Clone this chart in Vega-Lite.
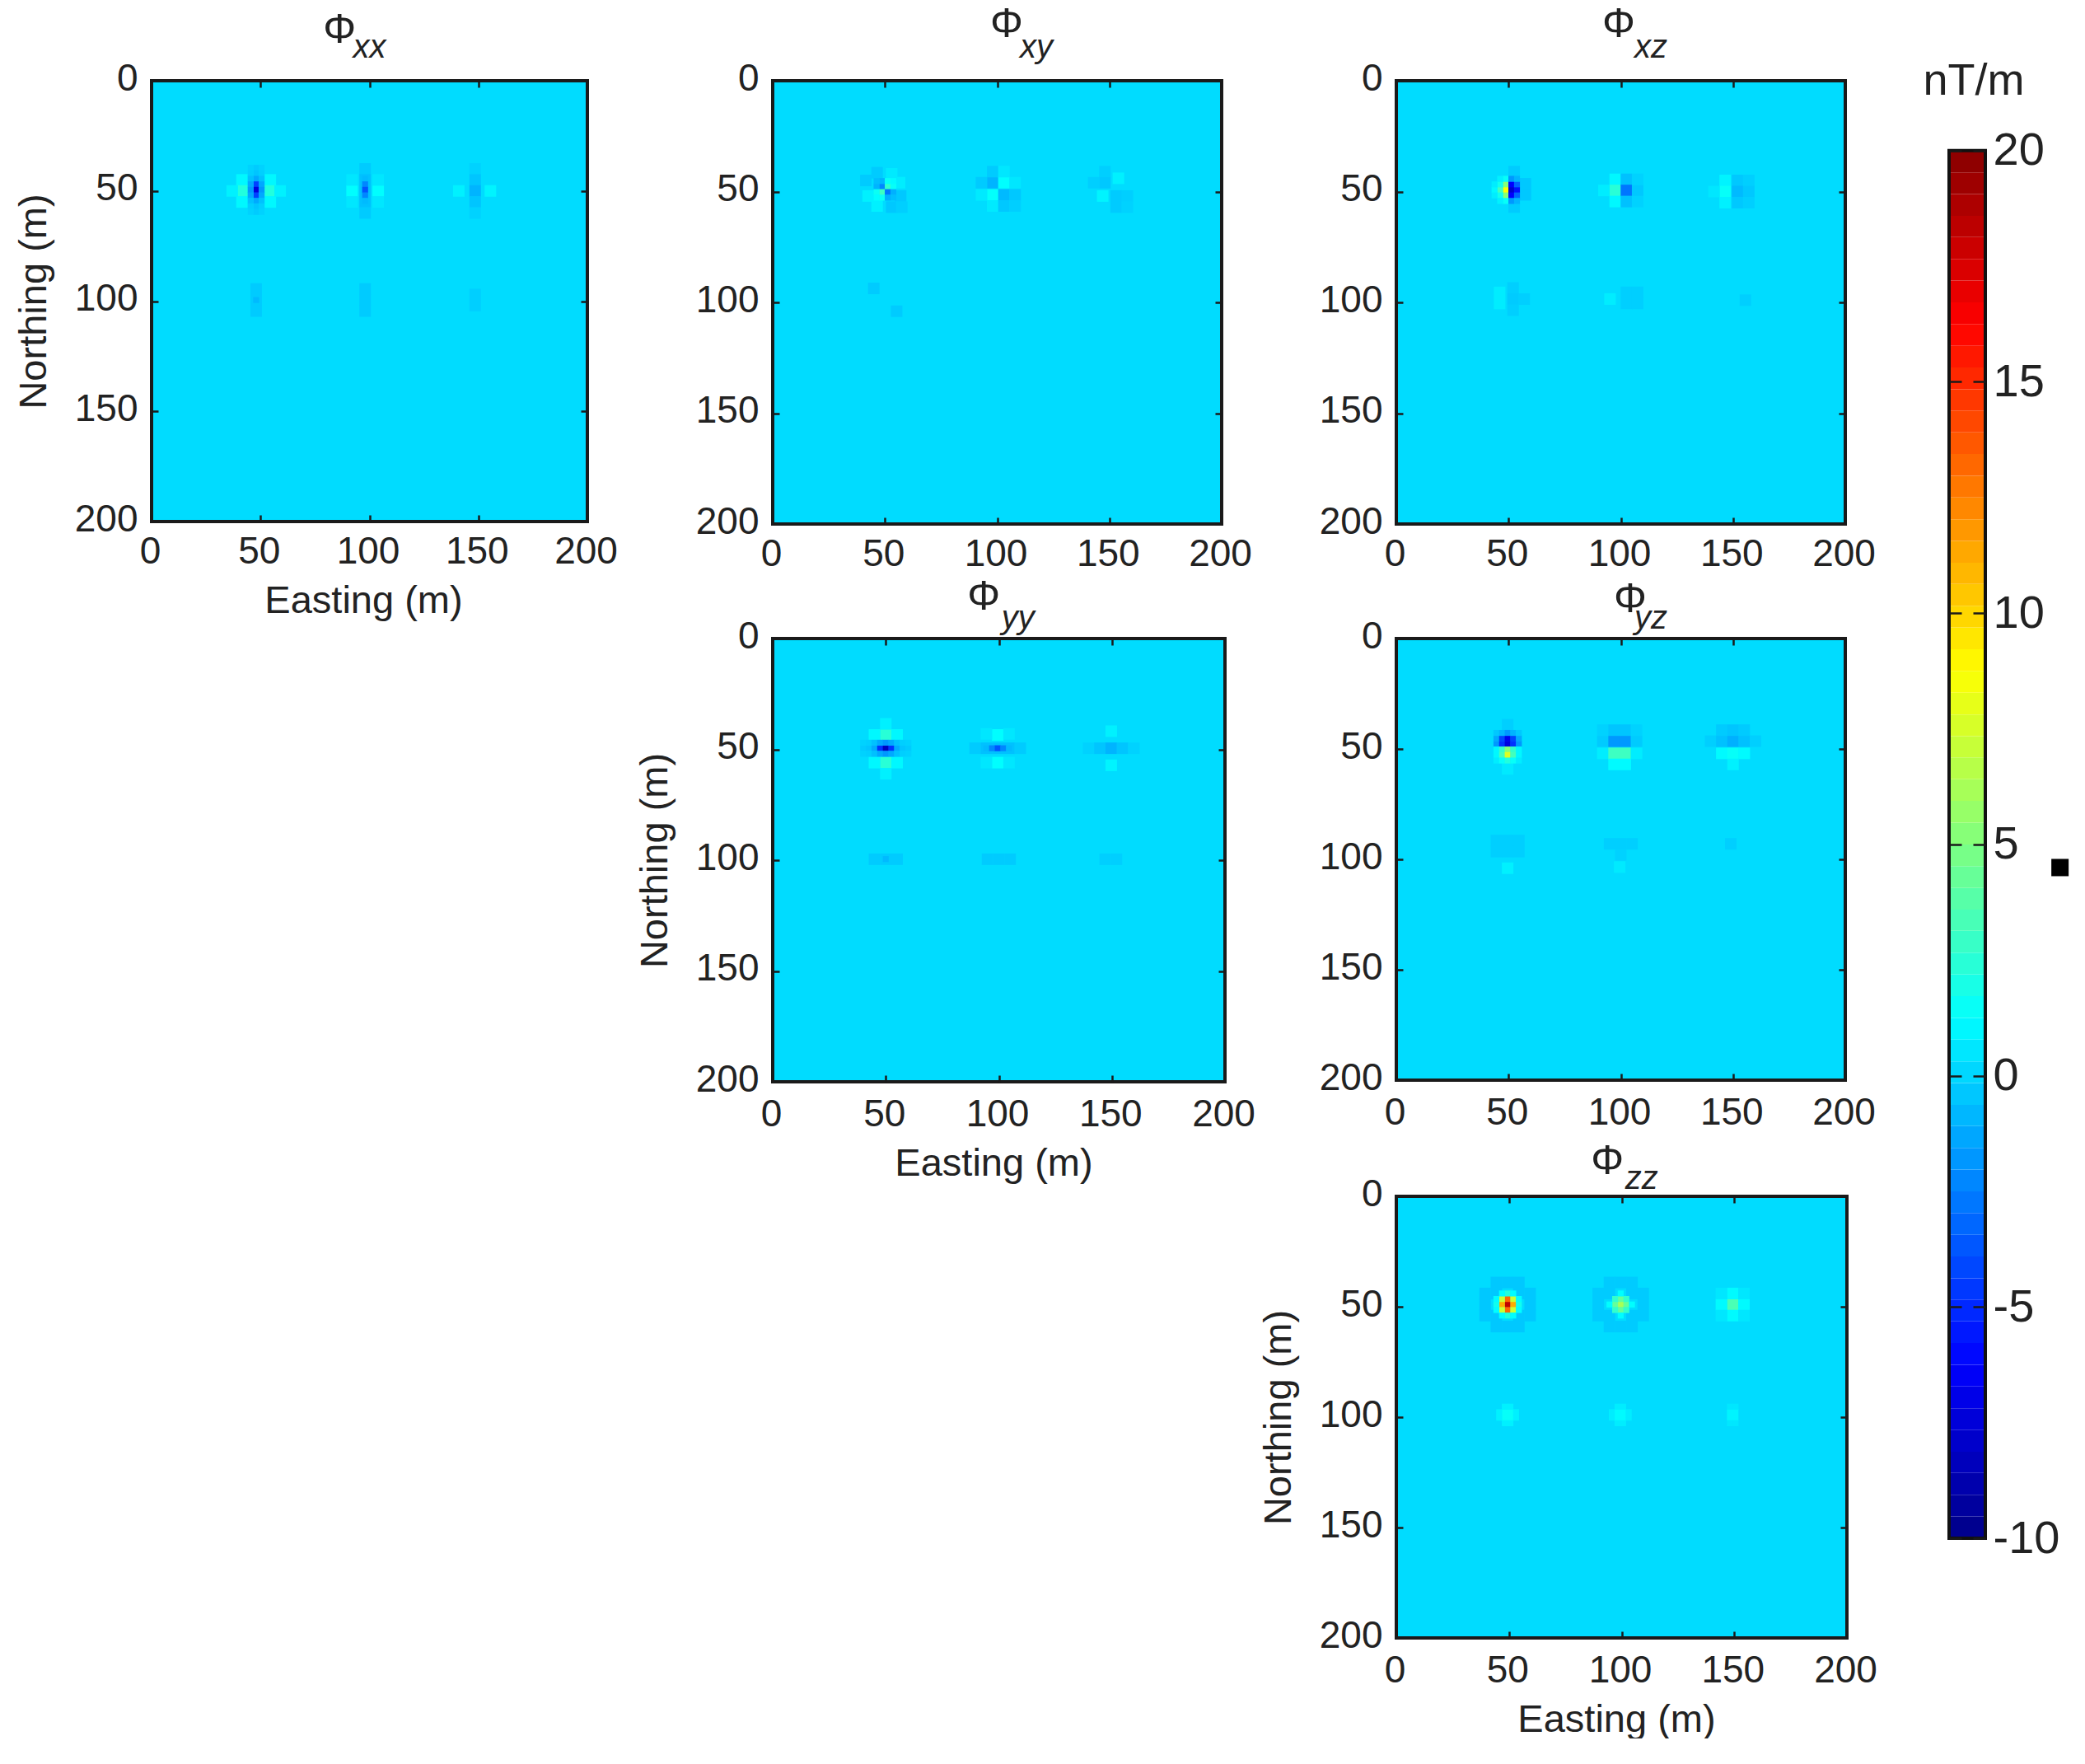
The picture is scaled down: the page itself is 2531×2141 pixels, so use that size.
{"$schema":"https://vega.github.io/schema/vega-lite/v6.json","padding":{"left":17,"top":5,"right":0,"bottom":0},"background":"white","config":{"view":{"stroke":null},"legend":{"disable":true},"font":"Liberation Sans","axis":{"domain":false,"grid":false,"tickCount":5,"tickColor":"#1a1a1a","tickWidth":2.5,"tickSize":-8,"labelFontSize":46,"labelColor":"#222222","titleFontSize":47,"titleFontWeight":"normal","titleColor":"#222222","labelPadding":25,"labelOverlap":false,"labelBound":false,"labelFlush":false},"axisX":{"titlePadding":14,"labelOffset":-2},"axisY":{"titlePadding":25,"labelOffset":-3},"title":{"fontSize":50,"fontWeight":"normal","color":"#222222","anchor":"start","frame":"group","subtitleFontSize":40,"subtitleFontStyle":"italic","subtitleColor":"#222222"}},
"datasets":{"bg":[{"e":0,"n":0,"e1":200,"n1":200,"v":0}],
"xxc":[{"e":41.5,"n":45,"v":0.8},{"e":41.5,"n":50,"v":2},{"e":41.5,"n":55,"v":0.8},{"e":37,"n":50,"v":0.6},{"e":54.5,"n":45,"v":0.8},{"e":54.5,"n":50,"v":2},{"e":54.5,"n":55,"v":0.8},{"e":59,"n":50,"v":0.6},{"e":98,"n":40,"v":-0.5},{"e":98,"n":45,"v":-0.8},{"e":98,"n":50,"v":-0.8},{"e":98,"n":55,"v":-0.8},{"e":98,"n":60,"v":-0.5},{"e":92,"n":50,"v":1},{"e":92,"n":45,"v":0.3},{"e":92,"n":55,"v":0.3},{"e":104,"n":50,"v":1},{"e":104,"n":45,"v":0.3},{"e":104,"n":55,"v":0.3},{"e":148.5,"n":40,"v":-0.3},{"e":148.5,"n":45,"v":-0.7},{"e":148.5,"n":50,"v":-1.2},{"e":148.5,"n":55,"v":-0.7},{"e":148.5,"n":60,"v":-0.3},{"e":141,"n":50,"v":0.6},{"e":155.5,"n":50,"v":0.7},{"e":48,"n":94.5,"v":-0.5},{"e":48,"n":99.5,"v":-0.5},{"e":48,"n":104.5,"v":-0.5},{"e":98,"n":94.5,"v":-0.5},{"e":98,"n":99.5,"v":-0.5},{"e":98,"n":104.5,"v":-0.5},{"e":148.5,"n":97,"v":-0.4},{"e":148.5,"n":102,"v":-0.4}],
"xxf":[{"e":48,"n":39.5,"v":-0.5},{"e":48,"n":42,"v":-0.7},{"e":48,"n":44.5,"v":-1.5},{"e":48,"n":47,"v":-4.5},{"e":48,"n":49.5,"v":-7.5},{"e":48,"n":52,"v":-4.5},{"e":48,"n":54.5,"v":-1.5},{"e":48,"n":57,"v":-0.7},{"e":48,"n":59.5,"v":-0.5},{"e":45.5,"n":39.5,"v":-0.3},{"e":45.5,"n":42,"v":-0.4},{"e":45.5,"n":44.5,"v":-0.8},{"e":45.5,"n":47,"v":-1.5},{"e":45.5,"n":49.5,"v":-2},{"e":45.5,"n":52,"v":-1.5},{"e":45.5,"n":54.5,"v":-0.8},{"e":45.5,"n":57,"v":-0.4},{"e":45.5,"n":59.5,"v":-0.3},{"e":50.5,"n":39.5,"v":-0.3},{"e":50.5,"n":42,"v":-0.4},{"e":50.5,"n":44.5,"v":-0.8},{"e":50.5,"n":47,"v":-1.5},{"e":50.5,"n":49.5,"v":-2},{"e":50.5,"n":52,"v":-1.5},{"e":50.5,"n":54.5,"v":-0.8},{"e":50.5,"n":57,"v":-0.4},{"e":50.5,"n":59.5,"v":-0.3},{"e":98,"n":44.5,"v":-1},{"e":98,"n":47,"v":-2.5},{"e":98,"n":49.5,"v":-4},{"e":98,"n":52,"v":-2.5},{"e":98,"n":54.5,"v":-1},{"e":48,"n":99.5,"v":-1}],
"xyc":[{"e":41.5,"n":45,"v":-0.5},{"e":46.5,"n":41.5,"v":-0.5},{"e":42.5,"n":52,"v":0.6},{"e":46.5,"n":56.5,"v":0.6},{"e":56.5,"n":46,"v":0.5},{"e":53,"n":42,"v":0.4},{"e":57,"n":52,"v":-0.6},{"e":53,"n":57,"v":-0.6},{"e":57.5,"n":57,"v":-0.4},{"e":98,"n":46,"v":-1.2},{"e":93,"n":46,"v":-0.5},{"e":98,"n":41,"v":-0.5},{"e":103,"n":46,"v":1},{"e":108,"n":46,"v":0.3},{"e":103,"n":41,"v":0.3},{"e":98,"n":51.5,"v":1.1},{"e":93,"n":51.5,"v":0.4},{"e":98,"n":56.5,"v":0.4},{"e":103,"n":51.5,"v":-1},{"e":108,"n":51.5,"v":-0.6},{"e":103,"n":56.5,"v":-0.6},{"e":108,"n":56.5,"v":-0.4},{"e":148,"n":46,"v":-0.6},{"e":143,"n":46,"v":-0.4},{"e":148,"n":41,"v":-0.4},{"e":154,"n":44,"v":0.6},{"e":147,"n":52,"v":0.7},{"e":153,"n":52,"v":-0.5},{"e":158,"n":52,"v":-0.4},{"e":153,"n":57,"v":-0.5},{"e":158,"n":57,"v":-0.3},{"e":45,"n":93.7,"v":-0.5},{"e":55.2,"n":104,"v":-0.5}],
"xyf":[{"e":48.75,"n":47.75,"v":-2.5},{"e":46.25,"n":47.75,"v":-1.2},{"e":48.75,"n":45.25,"v":-1.2},{"e":46.25,"n":45.25,"v":-0.9},{"e":51.25,"n":47.75,"v":2.5},{"e":53.75,"n":47.75,"v":1.2},{"e":51.25,"n":45.25,"v":1.2},{"e":53.75,"n":45.25,"v":0.9},{"e":48.75,"n":50.25,"v":2.8},{"e":46.25,"n":50.25,"v":1.3},{"e":48.75,"n":52.75,"v":1.3},{"e":46.25,"n":52.75,"v":1},{"e":51.25,"n":50.25,"v":-3},{"e":53.75,"n":50.25,"v":-1.3},{"e":51.25,"n":52.75,"v":-1.3},{"e":53.75,"n":52.75,"v":-0.9}],
"xzc":[{"e":57.5,"n":46.5,"v":-0.6},{"e":57.5,"n":51.5,"v":-0.6},{"e":52.5,"n":41,"v":-0.5},{"e":52.5,"n":57,"v":-0.5},{"e":97.5,"n":44.5,"v":0.8},{"e":97.5,"n":49.5,"v":2.2},{"e":97.5,"n":54.5,"v":0.8},{"e":92.5,"n":49.5,"v":0.5},{"e":102.5,"n":44.5,"v":-0.8},{"e":102.5,"n":49.5,"v":-3},{"e":102.5,"n":54.5,"v":-0.8},{"e":107.5,"n":49.5,"v":-0.6},{"e":107.5,"n":44.5,"v":-0.3},{"e":107.5,"n":54.5,"v":-0.3},{"e":146.5,"n":45,"v":0.7},{"e":146.5,"n":50,"v":1.2},{"e":146.5,"n":55,"v":0.6},{"e":152,"n":45,"v":-0.6},{"e":152,"n":50,"v":-1},{"e":152,"n":55,"v":-0.6},{"e":157,"n":45,"v":-0.4},{"e":157,"n":50,"v":-0.6},{"e":157,"n":55,"v":-0.4},{"e":141.5,"n":50,"v":0.3},{"e":46,"n":95.5,"v":0.5},{"e":46,"n":100.5,"v":0.5},{"e":52,"n":93.5,"v":-0.4},{"e":52,"n":98.5,"v":-0.5},{"e":52,"n":103.5,"v":-0.4},{"e":57,"n":98.5,"v":-0.4},{"e":95.2,"n":98.5,"v":0.5},{"e":102.5,"n":95.5,"v":-0.4},{"e":102.5,"n":100.5,"v":-0.4},{"e":107.5,"n":95.5,"v":-0.4},{"e":107.5,"n":100.5,"v":-0.4},{"e":155.5,"n":99,"v":-0.4}],
"xzf":[{"e":48.75,"n":49.25,"v":8.5},{"e":48.75,"n":46.75,"v":5},{"e":48.75,"n":51.75,"v":5},{"e":46.25,"n":49.25,"v":3},{"e":46.25,"n":46.75,"v":1.5},{"e":46.25,"n":51.75,"v":1.5},{"e":48.75,"n":44.25,"v":1.2},{"e":48.75,"n":54.25,"v":1.2},{"e":46.25,"n":44.25,"v":0.6},{"e":46.25,"n":54.25,"v":0.6},{"e":51.25,"n":49.25,"v":-8},{"e":51.25,"n":46.75,"v":-6.5},{"e":51.25,"n":51.75,"v":-6.5},{"e":53.75,"n":49.25,"v":-6},{"e":53.75,"n":46.75,"v":-3.5},{"e":53.75,"n":51.75,"v":-3.5},{"e":51.25,"n":44.25,"v":-2},{"e":51.25,"n":54.25,"v":-2},{"e":53.75,"n":44.25,"v":-1.2},{"e":53.75,"n":54.25,"v":-1.2},{"e":43.75,"n":49.25,"v":0.8},{"e":43.75,"n":46.75,"v":0.5},{"e":43.75,"n":51.75,"v":0.5}],
"yyc":[{"e":50,"n":43.5,"v":2.2},{"e":45,"n":43.5,"v":0.8},{"e":55,"n":43.5,"v":0.8},{"e":50,"n":38.5,"v":0.6},{"e":50,"n":56,"v":2.2},{"e":45,"n":56,"v":0.8},{"e":55,"n":56,"v":0.8},{"e":50,"n":61,"v":0.6},{"e":89.5,"n":49.5,"v":-0.5},{"e":94.5,"n":49.5,"v":-0.8},{"e":99.5,"n":49.5,"v":-0.8},{"e":104.5,"n":49.5,"v":-0.8},{"e":109.5,"n":49.5,"v":-0.5},{"e":99.5,"n":43.5,"v":1},{"e":94.5,"n":43,"v":0.3},{"e":104.5,"n":43,"v":0.3},{"e":99.5,"n":56,"v":1},{"e":94.5,"n":56,"v":0.3},{"e":104.5,"n":56,"v":0.3},{"e":139.7,"n":49.5,"v":-0.3},{"e":144.7,"n":49.5,"v":-0.7},{"e":149.7,"n":49.5,"v":-1.2},{"e":154.7,"n":49.5,"v":-0.7},{"e":159.7,"n":49.5,"v":-0.3},{"e":149.7,"n":41.8,"v":0.6},{"e":149.7,"n":57.2,"v":0.7},{"e":45,"n":99.6,"v":-0.5},{"e":50,"n":99.6,"v":-0.5},{"e":55,"n":99.6,"v":-0.5},{"e":95,"n":99.6,"v":-0.5},{"e":100,"n":99.6,"v":-0.5},{"e":105,"n":99.6,"v":-0.5},{"e":147,"n":99.6,"v":-0.4},{"e":152,"n":99.6,"v":-0.4}],
"yyf":[{"e":40,"n":49.5,"v":-0.5},{"e":42.5,"n":49.5,"v":-0.7},{"e":45,"n":49.5,"v":-1.5},{"e":47.5,"n":49.5,"v":-5},{"e":50,"n":49.5,"v":-8.5},{"e":52.5,"n":49.5,"v":-5},{"e":55,"n":49.5,"v":-1.5},{"e":57.5,"n":49.5,"v":-0.7},{"e":60,"n":49.5,"v":-0.5},{"e":40,"n":47,"v":-0.3},{"e":42.5,"n":47,"v":-0.4},{"e":45,"n":47,"v":-0.8},{"e":47.5,"n":47,"v":-1.5},{"e":50,"n":47,"v":-2},{"e":52.5,"n":47,"v":-1.5},{"e":55,"n":47,"v":-0.8},{"e":57.5,"n":47,"v":-0.4},{"e":60,"n":47,"v":-0.3},{"e":40,"n":52,"v":-0.3},{"e":42.5,"n":52,"v":-0.4},{"e":45,"n":52,"v":-0.8},{"e":47.5,"n":52,"v":-1.5},{"e":50,"n":52,"v":-2},{"e":52.5,"n":52,"v":-1.5},{"e":55,"n":52,"v":-0.8},{"e":57.5,"n":52,"v":-0.4},{"e":60,"n":52,"v":-0.3},{"e":94.5,"n":49.5,"v":-1},{"e":97,"n":49.5,"v":-2.5},{"e":99.5,"n":49.5,"v":-4},{"e":102,"n":49.5,"v":-2.5},{"e":104.5,"n":49.5,"v":-1},{"e":50,"n":99.5,"v":-1}],
"yzc":[{"e":49.6,"n":39,"v":-0.4},{"e":49.6,"n":59,"v":0.4},{"e":92,"n":46.5,"v":-0.5},{"e":97,"n":46.5,"v":-2},{"e":102,"n":46.5,"v":-2},{"e":107,"n":46.5,"v":-0.5},{"e":92,"n":41.5,"v":-0.3},{"e":97,"n":41.5,"v":-0.7},{"e":102,"n":41.5,"v":-0.7},{"e":107,"n":41.5,"v":-0.3},{"e":92,"n":52,"v":0.5},{"e":97,"n":52,"v":2.8},{"e":102,"n":52,"v":2.8},{"e":107,"n":52,"v":0.5},{"e":97,"n":57,"v":0.9},{"e":102,"n":57,"v":0.9},{"e":140,"n":46.5,"v":-0.4},{"e":145,"n":46.5,"v":-0.8},{"e":150,"n":46.5,"v":-1.3},{"e":155,"n":46.5,"v":-0.8},{"e":160,"n":46.5,"v":-0.4},{"e":145,"n":41.5,"v":-0.5},{"e":150,"n":41.5,"v":-0.7},{"e":155,"n":41.5,"v":-0.5},{"e":145,"n":52,"v":0.9},{"e":150,"n":52,"v":1.2},{"e":155,"n":52,"v":0.9},{"e":150,"n":57,"v":0.6},{"e":44.6,"n":91.5,"v":-0.4},{"e":49.6,"n":91.5,"v":-0.4},{"e":54.6,"n":91.5,"v":-0.4},{"e":44.6,"n":96.5,"v":-0.4},{"e":49.6,"n":96.5,"v":-0.4},{"e":54.6,"n":96.5,"v":-0.4},{"e":49.6,"n":104,"v":0.6},{"e":95,"n":93,"v":-0.4},{"e":100,"n":93,"v":-0.4},{"e":105,"n":93,"v":-0.4},{"e":100,"n":98,"v":-0.3},{"e":99.5,"n":103.5,"v":0.4},{"e":149,"n":93,"v":-0.4}],
"yzf":[{"e":44.6,"n":47.75,"v":-2},{"e":47.1,"n":47.75,"v":-5},{"e":49.6,"n":47.75,"v":-7.5},{"e":52.1,"n":47.75,"v":-5},{"e":54.6,"n":47.75,"v":-2},{"e":44.6,"n":45.25,"v":-1.5},{"e":47.1,"n":45.25,"v":-4.5},{"e":49.6,"n":45.25,"v":-7},{"e":52.1,"n":45.25,"v":-4.5},{"e":54.6,"n":45.25,"v":-1.5},{"e":44.6,"n":42.75,"v":-0.6},{"e":47.1,"n":42.75,"v":-1.2},{"e":49.6,"n":42.75,"v":-2},{"e":52.1,"n":42.75,"v":-1.2},{"e":54.6,"n":42.75,"v":-0.6},{"e":44.6,"n":50.25,"v":0.8},{"e":47.1,"n":50.25,"v":2.5},{"e":49.6,"n":50.25,"v":5},{"e":52.1,"n":50.25,"v":2.5},{"e":54.6,"n":50.25,"v":0.8},{"e":44.6,"n":52.75,"v":0.8},{"e":47.1,"n":52.75,"v":3},{"e":49.6,"n":52.75,"v":7.5},{"e":52.1,"n":52.75,"v":3},{"e":54.6,"n":52.75,"v":0.8},{"e":44.6,"n":55.25,"v":0.5},{"e":47.1,"n":55.25,"v":1.2},{"e":49.6,"n":55.25,"v":2},{"e":52.1,"n":55.25,"v":1.2},{"e":54.6,"n":55.25,"v":0.5}],
"zzc":[{"e":39.4,"n":44,"v":-0.6},{"e":39.4,"n":49,"v":-0.6},{"e":39.4,"n":54,"v":-0.6},{"e":59.4,"n":44,"v":-0.6},{"e":59.4,"n":49,"v":-0.6},{"e":59.4,"n":54,"v":-0.6},{"e":44.4,"n":39,"v":-0.6},{"e":49.4,"n":39,"v":-0.6},{"e":54.4,"n":39,"v":-0.6},{"e":44.4,"n":59,"v":-0.6},{"e":49.4,"n":59,"v":-0.6},{"e":54.4,"n":59,"v":-0.6},{"e":44.4,"n":44,"v":-0.6},{"e":54.4,"n":44,"v":-0.6},{"e":44.4,"n":54,"v":-0.6},{"e":54.4,"n":54,"v":-0.6},{"e":89.6,"n":44,"v":-0.5},{"e":89.6,"n":49,"v":-0.5},{"e":89.6,"n":54,"v":-0.5},{"e":109.6,"n":44,"v":-0.5},{"e":109.6,"n":49,"v":-0.5},{"e":109.6,"n":54,"v":-0.5},{"e":94.6,"n":39,"v":-0.5},{"e":99.6,"n":39,"v":-0.5},{"e":104.6,"n":39,"v":-0.5},{"e":94.6,"n":59,"v":-0.5},{"e":99.6,"n":59,"v":-0.5},{"e":104.6,"n":59,"v":-0.5},{"e":94.6,"n":44,"v":-0.5},{"e":104.6,"n":44,"v":-0.5},{"e":94.6,"n":54,"v":-0.5},{"e":104.6,"n":54,"v":-0.5},{"e":149.3,"n":49,"v":3.2},{"e":144.3,"n":49,"v":0.9},{"e":154.3,"n":49,"v":0.9},{"e":149.3,"n":44,"v":0.9},{"e":149.3,"n":54,"v":0.9},{"e":144.3,"n":44,"v":0.3},{"e":154.3,"n":44,"v":0.3},{"e":144.3,"n":54,"v":0.3},{"e":154.3,"n":54,"v":0.3},{"e":49.4,"n":99,"v":1.2},{"e":99.4,"n":99,"v":0.9},{"e":149.3,"n":99,"v":0.7}],
"zzf":[{"e":49.4,"n":49,"v":18},{"e":49.4,"n":46.5,"v":13},{"e":49.4,"n":51.5,"v":13},{"e":46.9,"n":49,"v":11},{"e":51.9,"n":49,"v":11},{"e":46.9,"n":46.5,"v":7},{"e":51.9,"n":46.5,"v":7},{"e":46.9,"n":51.5,"v":7},{"e":51.9,"n":51.5,"v":7},{"e":44.4,"n":49,"v":1.5},{"e":54.4,"n":49,"v":1.5},{"e":49.4,"n":44,"v":2},{"e":49.4,"n":54,"v":2},{"e":44.4,"n":46.5,"v":1},{"e":54.4,"n":46.5,"v":1},{"e":44.4,"n":51.5,"v":1},{"e":54.4,"n":51.5,"v":1},{"e":46.9,"n":44,"v":1},{"e":51.9,"n":44,"v":1},{"e":46.9,"n":54,"v":1},{"e":51.9,"n":54,"v":1},{"e":99.6,"n":49,"v":6},{"e":97.1,"n":49,"v":4},{"e":102.1,"n":49,"v":4},{"e":99.6,"n":46.5,"v":4},{"e":99.6,"n":51.5,"v":4},{"e":97.1,"n":46.5,"v":2.5},{"e":102.1,"n":46.5,"v":2.5},{"e":97.1,"n":51.5,"v":2.5},{"e":102.1,"n":51.5,"v":2.5},{"e":94.6,"n":49,"v":1},{"e":104.6,"n":49,"v":1},{"e":99.6,"n":44,"v":1},{"e":99.6,"n":54,"v":1},{"e":45.65,"n":97.75,"v":0.6},{"e":45.65,"n":100.25,"v":0.6},{"e":53.15,"n":97.75,"v":0.6},{"e":53.15,"n":100.25,"v":0.6},{"e":48.15,"n":95.25,"v":0.6},{"e":50.65,"n":95.25,"v":0.6},{"e":48.15,"n":102.75,"v":0.6},{"e":50.65,"n":102.75,"v":0.6},{"e":95.65,"n":97.75,"v":0.5},{"e":95.65,"n":100.25,"v":0.5},{"e":103.15,"n":97.75,"v":0.5},{"e":103.15,"n":100.25,"v":0.5},{"e":98.15,"n":95.25,"v":0.5},{"e":100.65,"n":95.25,"v":0.5},{"e":98.15,"n":102.75,"v":0.5},{"e":100.65,"n":102.75,"v":0.5},{"e":148.05,"n":95.25,"v":0.3},{"e":150.55,"n":95.25,"v":0.3},{"e":148.05,"n":102.75,"v":0.3},{"e":150.55,"n":102.75,"v":0.3}],
"bar":[{"a":-10,"b":-9.53},{"a":-9.53,"b":-9.06},{"a":-9.06,"b":-8.59},{"a":-8.59,"b":-8.13},{"a":-8.13,"b":-7.66},{"a":-7.66,"b":-7.19},{"a":-7.19,"b":-6.72},{"a":-6.72,"b":-6.25},{"a":-6.25,"b":-5.78},{"a":-5.78,"b":-5.31},{"a":-5.31,"b":-4.84},{"a":-4.84,"b":-4.38},{"a":-4.38,"b":-3.91},{"a":-3.91,"b":-3.44},{"a":-3.44,"b":-2.97},{"a":-2.97,"b":-2.5},{"a":-2.5,"b":-2.03},{"a":-2.03,"b":-1.56},{"a":-1.56,"b":-1.09},{"a":-1.09,"b":-0.63},{"a":-0.63,"b":-0.16},{"a":-0.16,"b":0.31},{"a":0.31,"b":0.78},{"a":0.78,"b":1.25},{"a":1.25,"b":1.72},{"a":1.72,"b":2.19},{"a":2.19,"b":2.66},{"a":2.66,"b":3.13},{"a":3.13,"b":3.59},{"a":3.59,"b":4.06},{"a":4.06,"b":4.53},{"a":4.53,"b":5},{"a":5,"b":5.47},{"a":5.47,"b":5.94},{"a":5.94,"b":6.41},{"a":6.41,"b":6.88},{"a":6.88,"b":7.34},{"a":7.34,"b":7.81},{"a":7.81,"b":8.28},{"a":8.28,"b":8.75},{"a":8.75,"b":9.22},{"a":9.22,"b":9.69},{"a":9.69,"b":10.16},{"a":10.16,"b":10.63},{"a":10.63,"b":11.09},{"a":11.09,"b":11.56},{"a":11.56,"b":12.03},{"a":12.03,"b":12.5},{"a":12.5,"b":12.97},{"a":12.97,"b":13.44},{"a":13.44,"b":13.91},{"a":13.91,"b":14.38},{"a":14.38,"b":14.84},{"a":14.84,"b":15.31},{"a":15.31,"b":15.78},{"a":15.78,"b":16.25},{"a":16.25,"b":16.72},{"a":16.72,"b":17.19},{"a":17.19,"b":17.66},{"a":17.66,"b":18.13},{"a":18.13,"b":18.59},{"a":18.59,"b":19.06},{"a":19.06,"b":19.53},{"a":19.53,"b":20}]},
"concat":[
{"width":654,"height":535,"title":{"text":"\u200c\u00a0\u00a0\u00a0\u00a0\u00a0\u00a0\u00a0\u00a0\u00a0\u00a0\u00a0\u00a0\u00a0\u00a0\u00a0Φ","subtitle":"\u200c\u00a0\u00a0\u00a0\u00a0\u00a0\u00a0\u00a0\u00a0\u00a0\u00a0\u00a0\u00a0\u00a0\u00a0\u00a0\u00a0\u00a0\u00a0\u00a0\u00a0\u00a0\u00a0xx","subtitlePadding":-24,"offset":-6},
"encoding":{"x":{"field":"e","type":"quantitative","title":null,"axis":null,"scale":{"domain":[0,200],"range":[0,529],"nice":false}},"y":{"field":"n","type":"quantitative","title":null,"axis":null,"scale":{"domain":[0,200],"reverse":true,"nice":false}},"color":{"field":"v","type":"quantitative","scale":{"domain":[-10,-6.48,1.02,8.52,16.02,20],"range":["#00008f","#0000ff","#00ffff","#ffff00","#ff0000","#800000"],"interpolate":"rgb"}}},
"layer":[
{"data":{"name":"bg"},"mark":{"type":"rect","stroke":"#1a1a1a","strokeWidth":4},"encoding":{"x":{"field":"e","type":"quantitative","title":"Easting (m)","axis":{"orient":"bottom","zindex":1,"titleX":257,"labelPadding":22}},"x2":{"field":"e1"},"y":{"field":"n","type":"quantitative","title":"Northing (m)","axis":{"orient":"left","zindex":1}},"y2":{"field":"n1"}}},
{"data":{"name":"xxc"},"mark":{"type":"square","size":196,"strokeWidth":0,"opacity":1},"encoding":{"x":{"field":"e","type":"quantitative","title":null,"axis":{"orient":"top","labels":false,"zindex":1}},"y":{"field":"n","type":"quantitative","title":null,"axis":{"orient":"right","labels":false,"offset":-125,"zindex":1}}}},
{"data":{"name":"xxf"},"mark":{"type":"square","size":52,"strokeWidth":0,"opacity":1}}
],"resolve":{"axis":{"x":"independent","y":"independent"}}},
{"width":656,"height":538,"title":{"text":"\u200c\u00a0\u00a0\u00a0\u00a0\u00a0\u00a0\u00a0\u00a0\u00a0\u00a0\u00a0\u00a0\u00a0\u00a0\u00a0\u00a0\u00a0\u00a0\u00a0Φ","subtitle":"\u200c\u00a0\u00a0\u00a0\u00a0\u00a0\u00a0\u00a0\u00a0\u00a0\u00a0\u00a0\u00a0\u00a0\u00a0\u00a0\u00a0\u00a0\u00a0\u00a0\u00a0\u00a0\u00a0\u00a0\u00a0\u00a0\u00a0\u00a0xy","subtitlePadding":-17,"offset":-6},
"encoding":{"x":{"field":"e","type":"quantitative","title":null,"axis":null,"scale":{"domain":[0,200],"range":[0,545],"nice":false}},"y":{"field":"n","type":"quantitative","title":null,"axis":null,"scale":{"domain":[0,200],"reverse":true,"nice":false}},"color":{"field":"v","type":"quantitative","scale":{"domain":[-10,-6.48,1.02,8.52,16.02,20],"range":["#00008f","#0000ff","#00ffff","#ffff00","#ff0000","#800000"],"interpolate":"rgb"}}},
"layer":[
{"data":{"name":"bg"},"mark":{"type":"rect","stroke":"#1a1a1a","strokeWidth":4},"encoding":{"x":{"field":"e","type":"quantitative","title":null,"axis":{"orient":"bottom","zindex":1,"labelPadding":22}},"x2":{"field":"e1"},"y":{"field":"n","type":"quantitative","title":null,"axis":{"orient":"left","zindex":1}},"y2":{"field":"n1"}}},
{"data":{"name":"xyc"},"mark":{"type":"square","size":196,"strokeWidth":0,"opacity":1},"encoding":{"x":{"field":"e","type":"quantitative","title":null,"axis":{"orient":"top","labels":false,"zindex":1}},"y":{"field":"n","type":"quantitative","title":null,"axis":{"orient":"right","labels":false,"offset":-111,"zindex":1}}}},
{"data":{"name":"xyf"},"mark":{"type":"square","size":52,"strokeWidth":0,"opacity":1}}
],"resolve":{"axis":{"x":"independent","y":"independent"}}},
{"width":571,"height":538,"title":{"text":"\u200c\u00a0\u00a0\u00a0\u00a0\u00a0\u00a0\u00a0\u00a0\u00a0\u00a0\u00a0\u00a0\u00a0\u00a0\u00a0\u00a0\u00a0\u00a0Φ","subtitle":"\u200c\u00a0\u00a0\u00a0\u00a0\u00a0\u00a0\u00a0\u00a0\u00a0\u00a0\u00a0\u00a0\u00a0\u00a0\u00a0\u00a0\u00a0\u00a0\u00a0\u00a0\u00a0\u00a0\u00a0\u00a0\u00a0\u00a0xz","subtitlePadding":-17,"offset":-6},
"encoding":{"x":{"field":"e","type":"quantitative","title":null,"axis":null,"scale":{"domain":[0,200],"range":[0,545],"nice":false}},"y":{"field":"n","type":"quantitative","title":null,"axis":null,"scale":{"domain":[0,200],"reverse":true,"nice":false}},"color":{"field":"v","type":"quantitative","scale":{"domain":[-10,-6.48,1.02,8.52,16.02,20],"range":["#00008f","#0000ff","#00ffff","#ffff00","#ff0000","#800000"],"interpolate":"rgb"}}},
"layer":[
{"data":{"name":"bg"},"mark":{"type":"rect","stroke":"#1a1a1a","strokeWidth":4},"encoding":{"x":{"field":"e","type":"quantitative","title":null,"axis":{"orient":"bottom","zindex":1,"labelPadding":22}},"x2":{"field":"e1"},"y":{"field":"n","type":"quantitative","title":null,"axis":{"orient":"left","zindex":1}},"y2":{"field":"n1"}}},
{"data":{"name":"xzc"},"mark":{"type":"square","size":196,"strokeWidth":0,"opacity":1},"encoding":{"x":{"field":"e","type":"quantitative","title":null,"axis":{"orient":"top","labels":false,"zindex":1}},"y":{"field":"n","type":"quantitative","title":null,"axis":{"orient":"right","labels":false,"offset":-26,"zindex":1}}}},
{"data":{"name":"xzf"},"mark":{"type":"square","size":52,"strokeWidth":0,"opacity":1}}
],"resolve":{"axis":{"x":"independent","y":"independent"}}},
{"width":44,"height":538,
"encoding":{"y":{"field":"a","type":"quantitative","title":null,"axis":null,"scale":{"domain":[-10,21.51],"range":[1769,0],"nice":false,"zero":false}},"x":{"field":"x","type":"quantitative","title":null,"axis":null,"scale":{"domain":[0,1],"nice":false}}},
"layer":[
{"data":{"name":"bar"},"mark":{"type":"rect","strokeWidth":0},"encoding":{"x":{"value":0},"x2":{"value":44},"y":{"field":"a","type":"quantitative","title":null,"axis":{"orient":"right","values":[-10,-5,0,5,10,15,20],"tickCount":7,"tickSize":-15,"labelFontSize":56,"labelPadding":24,"labelOffset":0,"labelExpr":"''+datum.value","zindex":1}},"y2":{"field":"b"},"color":{"field":"a","type":"quantitative","scale":{"domain":[-10,-6.48,1.02,8.52,16.02,20],"range":["#00008f","#0000ff","#00ffff","#ffff00","#ff0000","#800000"],"interpolate":"rgb"}}}},
{"data":{"values":[{"a":-10,"b":20,"x":0,"x1":1}]},"mark":{"type":"rect","filled":false,"stroke":"#111111","strokeWidth":4},"encoding":{"x2":{"field":"x1"},"y":{"field":"a","type":"quantitative","title":null,"axis":{"orient":"left","values":[-10,-5,0,5,10,15,20],"tickCount":7,"tickSize":-15,"labels":false,"zindex":1}},"y2":{"field":"b"}}},
{"data":{"values":[{"a":4.5,"x":3.06}]},"mark":{"type":"square","size":441,"color":"black","opacity":1,"strokeWidth":0,"clip":false}},
{"data":{"values":[{"a":21.2,"x":0.68,"t":"nT/m"}]},"mark":{"type":"text","fontSize":54,"align":"center","baseline":"alphabetic","color":"#222222"},"encoding":{"text":{"field":"t"}}}
],"resolve":{"axis":{"y":"independent"}}},
{"width":653,"height":1,"data":{"values":[]},"mark":"point"},
{"width":657,"height":538,"title":{"text":"\u200c\u00a0\u00a0\u00a0\u00a0\u00a0\u00a0\u00a0\u00a0\u00a0\u00a0\u00a0\u00a0\u00a0\u00a0\u00a0\u00a0\u00a0Φ","subtitle":"\u200c\u00a0\u00a0\u00a0\u00a0\u00a0\u00a0\u00a0\u00a0\u00a0\u00a0\u00a0\u00a0\u00a0\u00a0\u00a0\u00a0\u00a0\u00a0\u00a0\u00a0\u00a0\u00a0\u00a0\u00a0\u00a0yy","subtitlePadding":-19,"offset":-22},
"encoding":{"x":{"field":"e","type":"quantitative","title":null,"axis":null,"scale":{"domain":[0,200],"range":[0,549],"nice":false}},"y":{"field":"n","type":"quantitative","title":null,"axis":null,"scale":{"domain":[0,200],"reverse":true,"nice":false}},"color":{"field":"v","type":"quantitative","scale":{"domain":[-10,-6.48,1.02,8.52,16.02,20],"range":["#00008f","#0000ff","#00ffff","#ffff00","#ff0000","#800000"],"interpolate":"rgb"}}},
"layer":[
{"data":{"name":"bg"},"mark":{"type":"rect","stroke":"#1a1a1a","strokeWidth":4},"encoding":{"x":{"field":"e","type":"quantitative","title":"Easting (m)","axis":{"orient":"bottom","zindex":1,"titleX":268}},"x2":{"field":"e1"},"y":{"field":"n","type":"quantitative","title":"Northing (m)","axis":{"orient":"left","zindex":1}},"y2":{"field":"n1"}}},
{"data":{"name":"yyc"},"mark":{"type":"square","size":196,"strokeWidth":0,"opacity":1},"encoding":{"x":{"field":"e","type":"quantitative","title":null,"axis":{"orient":"top","labels":false,"zindex":1}},"y":{"field":"n","type":"quantitative","title":null,"axis":{"orient":"right","labels":false,"offset":-108,"zindex":1}}}},
{"data":{"name":"yyf"},"mark":{"type":"square","size":52,"strokeWidth":0,"opacity":1}}
],"resolve":{"axis":{"x":"independent","y":"independent"}}},
{"width":545,"height":536,"title":{"text":"\u200c\u00a0\u00a0\u00a0\u00a0\u00a0\u00a0\u00a0\u00a0\u00a0\u00a0\u00a0\u00a0\u00a0\u00a0\u00a0\u00a0\u00a0\u00a0\u00a0Φ","subtitle":"\u200c\u00a0\u00a0\u00a0\u00a0\u00a0\u00a0\u00a0\u00a0\u00a0\u00a0\u00a0\u00a0\u00a0\u00a0\u00a0\u00a0\u00a0\u00a0\u00a0\u00a0\u00a0\u00a0\u00a0\u00a0\u00a0\u00a0yz","subtitlePadding":-22,"offset":-22},
"encoding":{"x":{"field":"e","type":"quantitative","title":null,"axis":null,"scale":{"domain":[0,200],"nice":false}},"y":{"field":"n","type":"quantitative","title":null,"axis":null,"scale":{"domain":[0,200],"reverse":true,"nice":false}},"color":{"field":"v","type":"quantitative","scale":{"domain":[-10,-6.48,1.02,8.52,16.02,20],"range":["#00008f","#0000ff","#00ffff","#ffff00","#ff0000","#800000"],"interpolate":"rgb"}}},
"layer":[
{"data":{"name":"bg"},"mark":{"type":"rect","stroke":"#1a1a1a","strokeWidth":4},"encoding":{"x":{"field":"e","type":"quantitative","title":null,"axis":{"orient":"bottom","zindex":1}},"x2":{"field":"e1"},"y":{"field":"n","type":"quantitative","title":null,"axis":{"orient":"left","zindex":1}},"y2":{"field":"n1"}}},
{"data":{"name":"yzc"},"mark":{"type":"square","size":196,"strokeWidth":0,"opacity":1},"encoding":{"x":{"field":"e","type":"quantitative","title":null,"axis":{"orient":"top","labels":false,"zindex":1}},"y":{"field":"n","type":"quantitative","title":null,"axis":{"orient":"right","labels":false,"zindex":1}}}},
{"data":{"name":"yzf"},"mark":{"type":"square","size":52,"strokeWidth":0,"opacity":1}}
],"resolve":{"axis":{"x":"independent","y":"independent"}}},
{"width":1,"height":1,"data":{"values":[]},"mark":"point"},
{"width":653,"height":1,"data":{"values":[]},"mark":"point"},
{"width":657,"height":1,"data":{"values":[]},"mark":"point"},
{"width":547,"height":536,"title":{"text":"\u200c\u00a0\u00a0\u00a0\u00a0\u00a0\u00a0\u00a0\u00a0\u00a0\u00a0\u00a0\u00a0\u00a0\u00a0\u00a0\u00a0\u00a0Φ","subtitle":"\u200c\u00a0\u00a0\u00a0\u00a0\u00a0\u00a0\u00a0\u00a0\u00a0\u00a0\u00a0\u00a0\u00a0\u00a0\u00a0\u00a0\u00a0\u00a0\u00a0\u00a0\u00a0\u00a0\u00a0\u00a0\u00a0zz","subtitlePadding":-24,"offset":-25},
"encoding":{"x":{"field":"e","type":"quantitative","title":null,"axis":null,"scale":{"domain":[0,200],"nice":false}},"y":{"field":"n","type":"quantitative","title":null,"axis":null,"scale":{"domain":[0,200],"reverse":true,"nice":false}},"color":{"field":"v","type":"quantitative","scale":{"domain":[-10,-6.48,1.02,8.52,16.02,20],"range":["#00008f","#0000ff","#00ffff","#ffff00","#ff0000","#800000"],"interpolate":"rgb"}}},
"layer":[
{"data":{"name":"bg"},"mark":{"type":"rect","stroke":"#1a1a1a","strokeWidth":4},"encoding":{"x":{"field":"e","type":"quantitative","title":"Easting (m)","axis":{"orient":"bottom","zindex":1,"titleX":267}},"x2":{"field":"e1"},"y":{"field":"n","type":"quantitative","title":"Northing (m)","axis":{"orient":"left","zindex":1}},"y2":{"field":"n1"}}},
{"data":{"name":"zzc"},"mark":{"type":"square","size":196,"strokeWidth":0,"opacity":1},"encoding":{"x":{"field":"e","type":"quantitative","title":null,"axis":{"orient":"top","labels":false,"zindex":1}},"y":{"field":"n","type":"quantitative","title":null,"axis":{"orient":"right","labels":false,"zindex":1}}}},
{"data":{"name":"zzf"},"mark":{"type":"square","size":52,"strokeWidth":0,"opacity":1}}
],"resolve":{"axis":{"x":"independent","y":"independent"}}}
],"columns":4,"align":"none","bounds":"flush","spacing":{"row":139,"column":100}}
